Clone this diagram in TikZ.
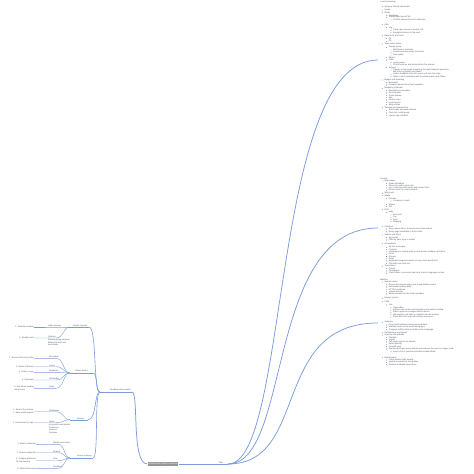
\documentclass[tikz,border=0pt]{standalone}
\usepackage{fontspec}
\setmainfont{Liberation Sans}
\definecolor{mapblue}{RGB}{122,156,222}
\definecolor{maptext}{RGB}{78,84,100}
\definecolor{rootgrey}{RGB}{150,150,150}
\tikzset{
  tiny/.style={font=\fontsize{2.1}{2.5}\selectfont, text=maptext, inner sep=0pt},
  outline/.style={tiny, anchor=west},
  branch/.style={draw=mapblue, line width=0.75pt},
  limb/.style={draw=mapblue, line width=0.6pt},
  twig/.style={draw=mapblue, line width=0.4pt},
  rootbox/.style={fill=rootgrey, text=white, font=\fontsize{2.3}{2.7}\selectfont,
    inner xsep=1pt, inner ysep=0pt, minimum height=4.2pt}
}
\begin{document}
\begin{tikzpicture}[x=1pt,y=-1pt]
\useasboundingbox (0,0) rectangle (474,474);

% root and the way to the right
\node[rootbox] (root) at (163,464) {Community project overview};
\coordinate (fork) at (228,464);
\node[tiny, anchor=south] (plan) at (221,463.7) {Plan};
\draw[branch] (root.east) -- (fork);
\coordinate (inA) at (378,60);
\coordinate (inB) at (378,228);
\coordinate (inC) at (378,323);
\draw[branch] (fork) .. controls (290,464) and (270,60) .. (inA);
\draw[branch] (fork) .. controls (292,464) and (265,228) .. (inB);
\draw[branch] (fork) .. controls (310,464) and (270,323) .. (inC);

% outline blocks
\foreach \y/\l/\t [count=\i] in {
  1.7/0/{Launch planning}, 6.7/1/{Set up a shared plan board}, 10/1/{Scope},
  12.7/1/{Goals}, 15.3/2/{Deadlines}, 17.3/2/{Stakeholder sign-off list},
  20/3/{Confirm owners for each milestone}, 24.3/1/{Risk}, 27.7/2/{Log},
  30.3/3/{Track open issues in weekly call}, 32.7/3/{Escalate blockers to the lead},
  35.7/1/{Resources and tools}, 38.7/2/{Q1}, 41.3/2/{Q2}, 44/1/{Team roles, duties},
  47.3/2/{Design group}, 50/3/{Wireframes, mockups}, 52.3/3/{Review sessions every 2nd week},
  55/3/{Style guide}, 57.3/2/{Writers}, 60/2/{Other}, 62.7/3/{Legal review},
  65/3/{Check licences and terms before the release}, 67.7/2/{Support},
  70/3/{Prepare a help page answering the most frequent questions,},
  74.3/3/{Collect feedback from first users and sort it by topic},
  76.7/3/{Share a short summary with the whole team each Friday},
  80/1/{Budget and spending}, 82.7/2/{Estimates}, 85/2/{Compare quotes from three suppliers},
  88.3/1/{Marketing channels}, 90.7/2/{Newsletter to members}, 93/2/{Social media},
  95.3/2/{Press release}, 97.7/2/{Ads}, 100/2/{Partner sites}, 102.3/2/{Local events},
  104.7/2/{Blog articles}, 107.7/1/{Timeline and checkpoints},
  110.3/2/{Draft ready two weeks ahead}, 113/2/{Final test, small group},
  115.7/2/{Launch day checklist}} {
  \node[outline] (a-\i) at ({380+4.3*\l},\y) {\t};
  \ifnum\l>0 \fill[maptext] ({378+4.3*\l},\y) circle (0.4pt); \fi
}
\node[outline] (a-wrap) at (392.9,72.2) {with links to guides and videos};

\foreach \y/\l/\t [count=\i] in {
  178.3/0/{Content}, 181/1/{Main pages}, 183.3/2/{Home and about},
  185.7/2/{Short intro with a clear aim}, 187.9/2/{List of services with prices and contact form},
  190.2/2/{Photos from the recent projects}, 193.3/1/{Blog posts}, 195.7/1/{Media},
  198.3/2/{Pictures}, 201/3/{Compress to web}, 204.3/2/{Videos}, 206.7/2/{GIF},
  209.7/1/{FAQ}, 212.3/2/{Help}, 215/3/{Accounts}, 217.3/3/{Pay}, 219.5/3/{Data},
  221.7/3/{Shipping}, 226.7/1/{Structure}, 229/2/{Keep menus short, at most seven main entries},
  231.7/2/{Every page reachable in three clicks}, 235/1/{Search and filters},
  237.7/2/{Keywords}, 240/2/{Filter by date, type or author}, 243.8/1/{Accessibility},
  247.3/2/{Alt text on images}, 249.6/2/{Contrast},
  251.9/2/{Headings in a logical order so that screen readers can follow},
  254.2/2/{Fonts}, 256.5/2/{Colours}, 258.8/2/{Zoom},
  261/2/{Keyboard navigation works on every form and button},
  263.3/2/{Test with real users too}, 266.2/1/{Translations}, 268.7/2/{French},
  271/2/{Portuguese}, 273.3/2/{Check dates, currencies and units in each language version}} {
  \node[outline] (b-\i) at ({380+4.3*\l},\y) {\t};
  \ifnum\l>0 \fill[maptext] ({378+4.3*\l},\y) circle (0.4pt); \fi
}

\foreach \y/\l/\t [count=\i] in {
  279.3/0/{Website}, 282/1/{Domain name}, 284.7/2/{Renew the domain every year, keep details current},
  287/2/{Automatic backups daily}, 289.3/2/{HTTPS certificate}, 291.7/2/{Uptime monitor},
  294/2/{Email accounts for the team members}, 298.3/1/{Design system}, 301.7/1/{CMS},
  305/2/{Use}, 307.7/3/{Page editor}, 310.1/3/{Authors can create and schedule posts without coding},
  312.4/3/{Editors approve changes before launch},
  314.7/3/{Old versions are kept so mistakes can be undone},
  317/3/{Roles limit who may edit settings and users}, 322.3/1/{Analytics},
  325/2/{Count visits without storing personal data},
  327.3/2/{Monthly report on the most read pages},
  329.7/2/{Compare traffic before and after each campaign},
  332.7/1/{Performance and speed}, 335/1/{Security and updates}, 337.3/2/{Patches},
  339.7/2/{Logins}, 342/2/{Two-factor sign-in for admins}, 344.3/2/{Spam filtering},
  346.7/2/{Firewall rules},
  349/2/{Review all plugins every quarter and remove the ones no longer used},
  351.7/3/{Keep a list of versions and who installed them}, 357.3/1/{Maintenance},
  360/2/{Check broken links weekly}, 362.3/2/{Update screenshots and guides},
  364.7/2/{Remove outdated news items}} {
  \node[outline] (c-\i) at ({380+4.3*\l},\y) {\t};
  \ifnum\l>0 \fill[maptext] ({378+4.3*\l},\y) circle (0.4pt); \fi
}

% left map
\coordinate (studyW) at (100,392);
\coordinate (studyE) at (132,392);
\node[tiny, anchor=south west] (study) at (110,391.6) {Reading and research};
\draw[limb] (studyW) -- (studyE);
\draw[branch] (studyE) .. controls (139,392) and (131,464) .. (root.west);

% online courses
\coordinate (coursesW) at (70,327);
\coordinate (coursesE) at (89,327);
\node[tiny, anchor=south west] (courses) at (73,326.6) {Online courses};
\draw[twig] (coursesW) -- (coursesE);
\foreach \y/\lab/\num [count=\i] in {327/{Video lessons}/{1. Statistics module},
  338/{Quizzes}/{1. Weekly tests}} {
  \node[tiny, anchor=east, align=left] (cn\i) at (34,\y) {\num};
  \node[tiny, anchor=south west] (cl\i) at (48,\y-0.4) {\lab};
  \draw[twig] (cn\i.east) -- (56,\y) .. controls (64,\y) and (63,327) .. (coursesW);
}
\node[tiny, anchor=north west, align=left] (cnote) at (48,339.2) {Review wrong answers\\before the next unit\\and retake};

% library books
\coordinate (booksW) at (70,373);
\coordinate (booksE) at (93,373);
\node[tiny, anchor=south west] (books) at (75,372.6) {Library books};
\draw[twig] (booksW) -- (booksE);
\foreach \y/\lab/\num [count=\i] in {358.3/{Due dates}/{1. Borrow the history titles},
  366.7/{Loans}/{2. Return old loans}, 372.3/{Requests}/{3. Order a copy},
  380/{Reminders}/{4. Renewals}, 388.3/{Visits}/{5. Ask about reading\\room hours}} {
  \node[tiny, anchor=east, align=left] (bn\i) at (34,\y) {\num};
  \node[tiny, anchor=south west] (bl\i) at (49,\y-0.4) {\lab};
  \draw[twig] (bn\i.east) -- (56,\y) .. controls (64,\y) and (63,373) .. (booksW);
}

% articles
\coordinate (articlesW) at (70,419.7);
\coordinate (articlesE) at (88,419.7);
\node[tiny, anchor=south west] (articles) at (77,419.3) {Articles};
\draw[twig] (articlesW) -- (articlesE);
\foreach \y/\lab/\num [count=\i] in {411.7/{Databases}/{1. Search the archive\\2. Save useful papers},
  422.7/{Notes}/{1. Summaries by topic}} {
  \node[tiny, anchor=east, align=left] (rn\i) at (34,\y) {\num};
  \node[tiny, anchor=south west] (rl\i) at (49,\y-0.4) {\lab};
  \draw[twig] (rn\i.east) -- (56,\y) .. controls (64,\y) and (63,419.7) .. (articlesW);
}
\node[tiny, anchor=north west, align=left] (rnote) at (49,424) {Key points and quotes\\Questions\\Sources\\Reviews};

% group sessions
\coordinate (sessionsW) at (70,458);
\coordinate (sessionsE) at (93,458);
\node[tiny, anchor=south west] (sessions) at (77,457.6) {Group sessions};
\draw[twig] (sessionsW) -- (sessionsE);
\foreach \y/\lab/\num [count=\i] in {444.3/{Weekly discussion}/{1. Meet on Monday},
  452.7/{Shared}/{2. Share reading list}, 460.7/{Prep}/{3. Prepare questions\\for the meeting},
  468.3/{Feedback}/{4. Write final review}} {
  \node[tiny, anchor=east, align=left] (sn\i) at (36,\y) {\num};
  \node[tiny, anchor=south west] (sl\i) at (53,\y-0.4) {\lab};
  \draw[twig] (sn\i.east) -- (58,\y) .. controls (65,\y) and (64,458) .. (sessionsW);
}

\draw[limb] (coursesE) .. controls (97,327) and (93,392) .. (studyW);
\draw[limb] (booksE) .. controls (98,373) and (95,392) .. (studyW);
\draw[limb] (articlesE) .. controls (97,419.7) and (94,392) .. (studyW);
\draw[limb] (sessionsE) .. controls (99,458) and (94,392) .. (studyW);
\end{tikzpicture}
\end{document}
